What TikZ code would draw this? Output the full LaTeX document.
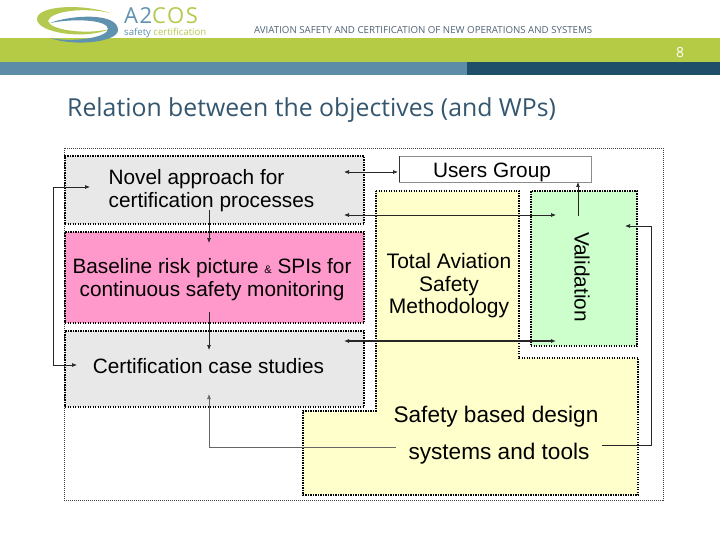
\documentclass[tikz,border=0pt]{standalone}
\usepackage{fontspec}
\setmainfont{Liberation Sans}
\newfontfamily\titlefont{Open Sans}
\newfontfamily\logofont[LetterSpace=7]{Open Sans}
\usetikzlibrary{arrows.meta}
\definecolor{band}{HTML}{B5CB45}
\definecolor{steel}{HTML}{5C8CA8}
\definecolor{deep}{HTML}{1F4E6B}
\definecolor{titleblue}{HTML}{34566E}
\definecolor{headgrey}{HTML}{4F6272}
\definecolor{logogreen}{HTML}{B3C94F}
\definecolor{logoblue}{HTML}{5F92AE}
\definecolor{boxgrey}{HTML}{E8E8E8}
\definecolor{boxpink}{HTML}{FF99CC}
\definecolor{boxyellow}{HTML}{FFFFCC}
\definecolor{boxgreen}{HTML}{CCFFCC}
\tikzset{
  dots/.style={draw=black,line width=1.3pt,dash pattern=on 1.3pt off 1.2pt},
  outerdots/.style={draw=black!75,line width=0.9pt,dash pattern=on 1pt off 1pt},
  panel/.style={dots,minimum width=#1,inner sep=0pt,outer sep=0pt},
  lbl/.style={font=\fontsize{20.8}{23}\selectfont,text=black,inner sep=0pt,align=center},
  big/.style={font=\fontsize{22.6}{24}\selectfont,text=black,inner sep=0pt,align=center},
  conn/.style={draw=black!85,line width=0.7pt,-{Latex[length=5pt,width=4pt]}},
  conb/.style={draw=black!85,line width=0.7pt,{Latex[length=5pt,width=4pt]}-{Latex[length=5pt,width=4pt]}},
}
\begin{document}
\begin{tikzpicture}[x=1pt,y=-1pt]
\useasboundingbox (0,0) rectangle (720,540);
% header bands
\fill[band] (0,38) rectangle (720,62);
\fill[steel] (0,62) rectangle (720,75);
\fill[deep] (467,62) rectangle (720,75);
% logo
\fill[logogreen] (110,13) .. controls (80,3) and (37,6) .. (37,19) .. controls (37,33) and (85,40) .. (110,29) .. controls (85,35) and (50,30) .. (48,21) .. controls (50,11) and (85,7) .. (110,13) -- cycle;
\fill[logoblue] (50,23) .. controls (70,15) and (118,12) .. (118,30) .. controls (118,42) and (75,47) .. (50,38) .. controls (75,43) and (108,37) .. (108,29) .. controls (108,20) and (75,18) .. (50,23) -- cycle;
\node[anchor=base west,inner sep=0pt,font=\logofont\fontsize{22}{22}\selectfont] (logoname) at (124,23.5) {\textcolor{logoblue}{A2}\textcolor{logogreen}{COS}};
\node[anchor=base west,inner sep=0pt,font=\titlefont\fontsize{9.6}{10}\selectfont] (logotag) at (124,36) {\textcolor{logoblue}{safety} \textcolor{logogreen}{certification}};
\node[anchor=base west,inner sep=0pt,text=headgrey,font=\titlefont\fontsize{9.7}{10}\selectfont] (head) at (254,34) {AVIATION SAFETY AND CERTIFICATION OF NEW OPERATIONS AND SYSTEMS};
\node[text=white,inner sep=0pt,font=\titlefont\fontsize{14}{14}\selectfont] (pagenum) at (680,53) {8};
\node[anchor=base west,inner sep=0pt,text=titleblue,font=\titlefont\fontsize{24.8}{28}\selectfont] (title) at (67,116.5) {Relation between the objectives (and WPs)};
% outer frame
\node[outerdots,minimum width=599pt,minimum height=352pt,inner sep=0pt,outer sep=0pt] (frame) at (363.5,324) {};
% panels
\node[panel=299pt,minimum height=68pt,fill=boxgrey] (novel) at (214.5,190) {};
\node[panel=299pt,minimum height=91pt,fill=boxpink] (base) at (214.5,277.5) {};
\node[panel=299pt,minimum height=76pt,fill=boxgrey] (cert) at (214.5,369) {};
\node[draw=black!45,line width=0.8pt,fill=white,minimum width=192pt,minimum height=26pt,inner sep=0pt,outer sep=0pt] (users) at (495,169) {};
\draw[black!80,line width=0.8pt] (users.north west) -- (users.south west);
\draw[dots,fill=boxyellow] (376,191) -- (519,191) -- (519,358) -- (638,358) -- (638,495) -- (303,495) -- (303,411) -- (376,411) -- cycle;
\node[panel=106pt,minimum height=155pt,fill=boxgreen] (valid) at (584,268.5) {};
% labels
\node[lbl,align=left] (tnovel) at (211.5,191) {Novel approach for\\certification processes};
\node[lbl] (tbase) at (212,279.5) {Baseline risk picture {\fontsize{11}{11}\selectfont\&} SPIs for\\continuous safety monitoring};
\node[lbl] (tcert) at (208.5,366) {Certification case studies};
\node[lbl] (tusers) at (492,172) {Users Group};
\node[lbl,font=\fontsize{21}{22.5}\selectfont] (ttotal) at (449,286) {Total Aviation\\Safety\\Methodology};
\node[lbl,rotate=-90] (tvalid) at (582,277) {Validation};
\node[big] (tsafe) at (496,417) {Safety based design};
\node[big] (tsys) at (499,454) {systems and tools};
% connector ends
\coordinate (l0) at (90,187);
\coordinate (l1) at (77,365);
\coordinate (a0) at (209,210);
\coordinate (a1) at (209,243);
\coordinate (b0) at (209,312);
\coordinate (b1) at (209,350);
\coordinate (u0) at (344,172);
\coordinate (u1) at (398,172);
\coordinate (m0) at (344,215);
\coordinate (m1) at (556,215);
\coordinate (n0) at (344,341);
\coordinate (n1) at (556,341);
\coordinate (v0) at (578,216);
\coordinate (v1) at (578,182);
\coordinate (r0) at (602,445);
\coordinate (r1) at (625,226);
\coordinate (s0) at (396,447);
\coordinate (s1) at (209,394);
% connectors
\draw[conn] (53,250) |- (l0);
\draw[conn] (53,250) |- (l1);
\draw[conn] (a0) -- (a1);
\draw[conn] (b0) -- (b1);
\draw[conb] (u0) -- (u1);
\draw[conb] (m0) -- (m1);
\draw[conb,line width=1.1pt] (n0) -- (n1);
\draw[conn] (v0) -- (v1);
\draw[conn] (r0) -- (651,445) -- (651,226) -- (r1);
\draw[conn,draw=black!60] (s0) -- (209,447) -- (s1);
\end{tikzpicture}
\end{document}
